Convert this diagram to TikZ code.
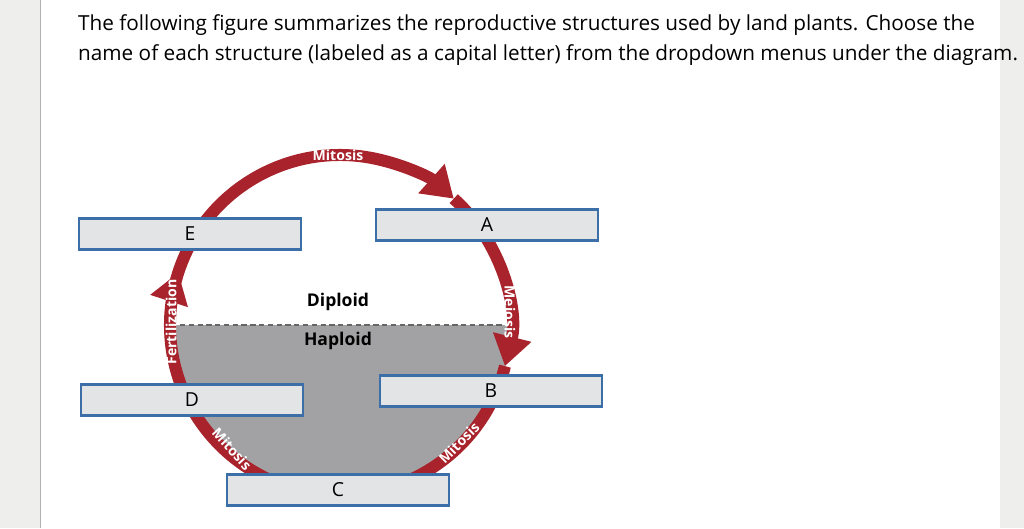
\documentclass[tikz,border=0pt]{standalone}
\usepackage{fontspec}
\setmainfont{Open Sans}
\usetikzlibrary{arrows.meta}
\definecolor{bg}{HTML}{EEEEEC}
\definecolor{cred}{HTML}{A8232B}
\definecolor{cgray}{HTML}{A2A2A4}
\definecolor{cbox}{HTML}{E2E4E6}
\definecolor{cblue}{HTML}{3C6FA8}
\tikzset{
  answer/.style={draw=cblue,line width=1.2pt,fill=cbox,minimum width=4.44cm,minimum height=0.62cm,inner sep=0pt,font=\fontsize{11}{12}\selectfont},
  arclbl/.style={text=white,font=\bfseries\fontsize{8}{9}\selectfont,inner sep=0pt},
  redarc/.style={cred,line width=0.24cm},
  tip/.style={-{Triangle[length=0.6cm,width=0.75cm]}},
}
\begin{document}
\begin{tikzpicture}[x=0.02cm,y=-0.02cm]
\useasboundingbox (0,0) rectangle (1024,528);
\fill[white] (0,0) rectangle (1024,528);
\fill[bg] (0,0) rectangle (40,528);
\fill[bg] (1000,0) rectangle (1024,528);
\draw[gray!60] (40,0) -- (40,528);
\node[anchor=west,font=\fontsize{11.8}{17}\selectfont,align=left] (title) at (72,40)
 {The following figure summarizes the reproductive structures used by land plants. Choose the\\name of each structure (labeled as a capital letter) from the dropdown menus under the diagram.};
\coordinate (c) at (340,325);
\begin{scope}
\clip (c) circle[radius=170];
\fill[cgray] (150,325) rectangle (530,520);
\end{scope}
\draw[densely dashed,line width=1pt,black!60] (180,325) -- (502,325);
\draw[redarc,tip] ([shift={(-170:170)}]c) arc[start angle=-170,end angle=-48,radius=170];
\draw[redarc] ([shift={(-48:170)}]c) arc[start angle=-48,end angle=-40,radius=170];
\draw[redarc,tip] ([shift={(-40:170)}]c) arc[start angle=-40,end angle=14,radius=170];
\draw[redarc] ([shift={(14:170)}]c) arc[start angle=14,end angle=190,radius=170];
\draw[redarc,tip] ([shift={(190:170)}]c) arc[start angle=190,end angle=198,radius=170];
\node[arclbl] (m1) at (338,155) {Mitosis};
\node[arclbl,rotate=-90] (me) at (510,312) {Meiosis};
\node[arclbl,rotate=90] (fe) at (171,322) {Fertilization};
\node[arclbl,rotate=-48] (m2) at (232,449) {Mitosis};
\node[arclbl,rotate=45] (m3) at (459,443) {Mitosis};
\node[font=\bfseries\fontsize{10}{12}\selectfont] (dip) at (338,302) {Diploid};
\node[font=\bfseries\fontsize{10}{12}\selectfont] (hap) at (338,341) {Haploid};
\node[answer] (E) at (190,234) {E};
\node[answer] (A) at (487,225) {A};
\node[answer] (D) at (192,400) {D};
\node[answer] (B) at (491,391) {B};
\node[answer] (C) at (338,490) {C};
\end{tikzpicture}
\end{document}
